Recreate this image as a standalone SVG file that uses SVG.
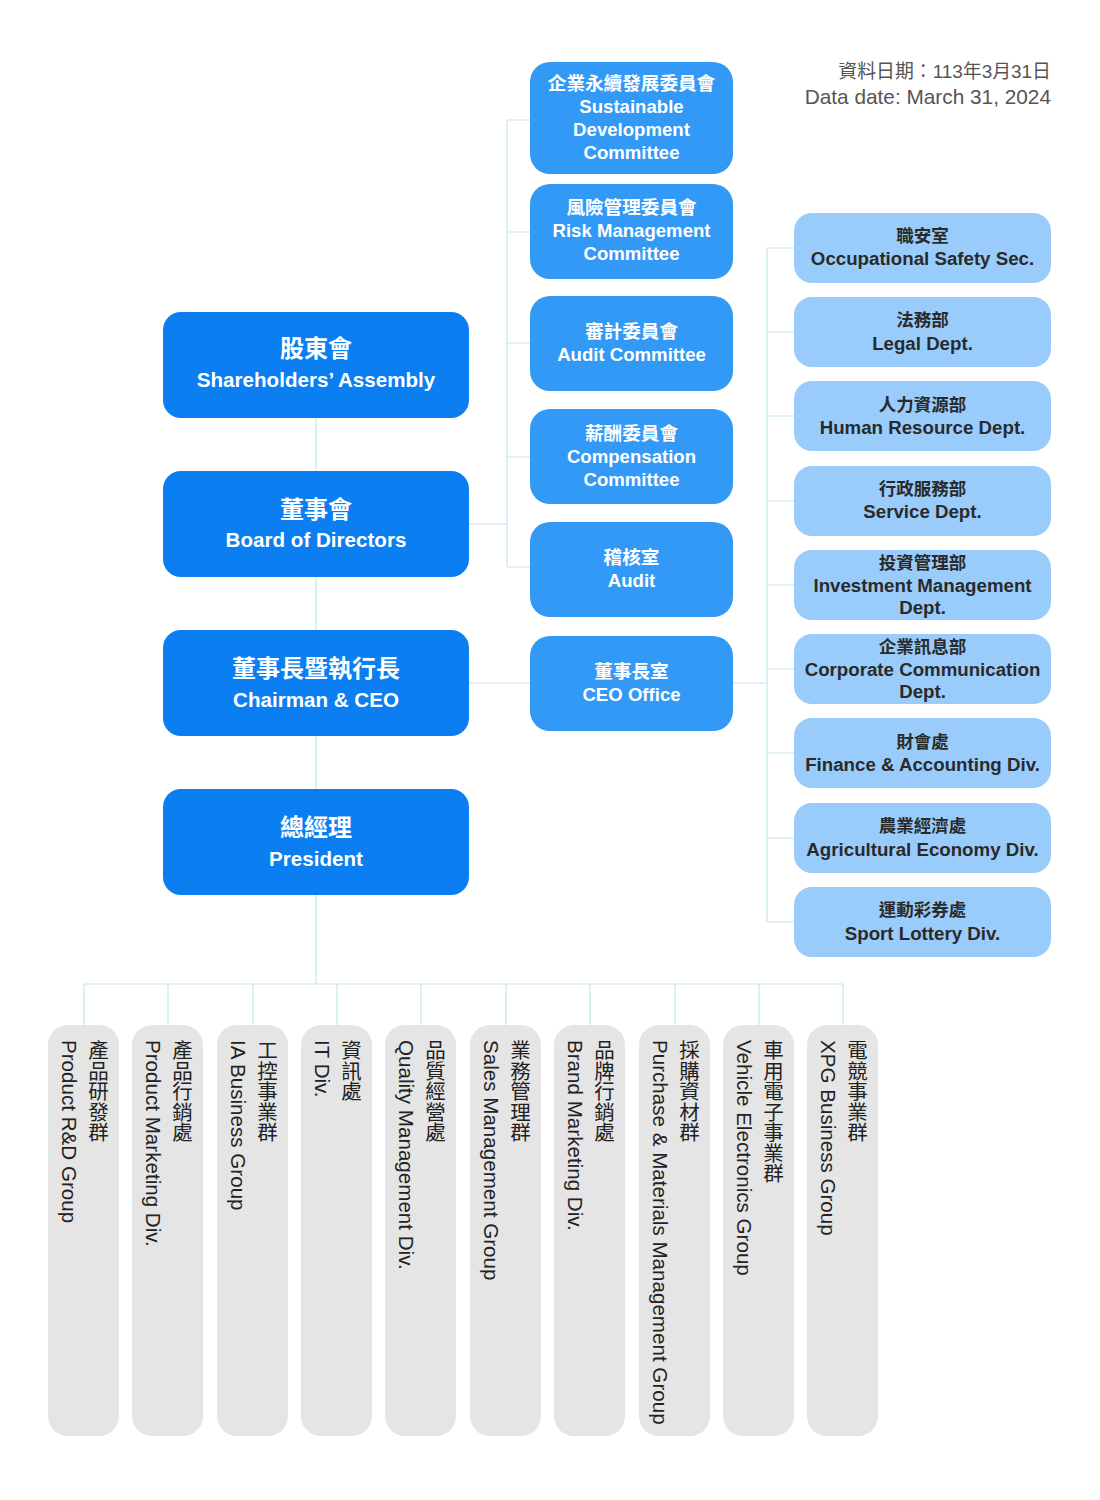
<svg xmlns="http://www.w3.org/2000/svg" width="1100" height="1500" viewBox="0 0 1100 1500">
<style>
text{font-family:"Liberation Sans",Arial,"Noto Sans CJK TC",sans-serif}
.main rect{fill:#0b7ff1}
.main text{fill:#fff;font-weight:bold;text-anchor:middle}
.main .zh{font-size:24px}
.main .en{font-size:20.6px}
.com rect{fill:#3399f7}
.com text{fill:#fff;font-weight:bold;font-size:18.6px;text-anchor:middle}
.dep rect{fill:#99ccfa}
.dep text{fill:#2a2a2a;font-weight:bold;text-anchor:middle}
.dep .zh{font-size:17.5px}
.dep .en{font-size:18.7px}
.col rect{fill:#e5e5e5}
.col text{fill:#222;font-size:20.6px}
.col .zh{writing-mode:vertical-rl;font-size:20.5px}
.conn{stroke:#c3e4f0;stroke-width:1.2;fill:none}
.date{fill:#555;text-anchor:end}
</style>
<rect width="1100" height="1500" fill="#fff"/>
<g id="date">
<text class="date" x="1051" y="78" font-size="18.9">資料日期：113年3月31日</text>
<text class="date" x="1051" y="104" font-size="20.8">Data date: March 31, 2024</text>
</g>
<g id="connectors" class="conn">
<path d="M316 418V789"/>
<path d="M469 524H507M507 120V567M507 120H530M507 232H530M507 343H530M507 457H530M507 567H530"/>
<path d="M469 683H530M733 683H767M767 248V922"/>
<path d="M767 248H794M767 332H794M767 416H794M767 501H794M767 585H794M767 669H794M767 753H794M767 838H794M767 922H794"/>
<path d="M316 895V984M84 984H843"/>
<path d="M84 984V1025M168 984V1025M253 984V1025M337 984V1025M421 984V1025M506 984V1025M590 984V1025M675 984V1025M759 984V1025M843 984V1025"/>
</g>
<g id="shareholders" class="main"><rect x="163" y="312" width="306" height="106" rx="18"/><text class="zh" x="316" y="357">股東會</text><text class="en" x="316" y="387">Shareholders’ Assembly</text></g>
<g id="board" class="main"><rect x="163" y="471" width="306" height="106" rx="18"/><text class="zh" x="316" y="518">董事會</text><text class="en" x="316" y="547">Board of Directors</text></g>
<g id="chairman" class="main"><rect x="163" y="630" width="306" height="106" rx="18"/><text class="zh" x="316" y="677">董事長暨執行長</text><text class="en" x="316" y="707">Chairman &amp; CEO</text></g>
<g id="president" class="main"><rect x="163" y="789" width="306" height="106" rx="18"/><text class="zh" x="316" y="836">總經理</text><text class="en" x="316" y="866">President</text></g>

<g id="sdc" class="com"><rect x="530" y="62" width="203" height="112" rx="20"/><text x="631.5" y="90">企業永續發展委員會</text><text x="631.5" y="113">Sustainable</text><text x="631.5" y="136">Development</text><text x="631.5" y="159">Committee</text></g>
<g id="risk" class="com"><rect x="530" y="184" width="203" height="95" rx="20"/><text x="631.5" y="214">風險管理委員會</text><text x="631.5" y="237">Risk Management</text><text x="631.5" y="260">Committee</text></g>
<g id="auditcom" class="com"><rect x="530" y="296" width="203" height="95" rx="20"/><text x="631.5" y="338">審計委員會</text><text x="631.5" y="361">Audit Committee</text></g>
<g id="comp" class="com"><rect x="530" y="409" width="203" height="95" rx="20"/><text x="631.5" y="440">薪酬委員會</text><text x="631.5" y="463">Compensation</text><text x="631.5" y="486">Committee</text></g>
<g id="audit" class="com"><rect x="530" y="522" width="203" height="95" rx="20"/><text x="631.5" y="564">稽核室</text><text x="631.5" y="587">Audit</text></g>
<g id="ceooffice" class="com"><rect x="530" y="636" width="203" height="95" rx="20"/><text x="631.5" y="678">董事長室</text><text x="631.5" y="701">CEO Office</text></g>

<g id="safety" class="dep"><rect x="794" y="213" width="257" height="70" rx="18"/><text class="zh" x="922.5" y="242">職安室</text><text class="en" x="922.5" y="265">Occupational Safety Sec.</text></g>
<g id="legal" class="dep"><rect x="794" y="297" width="257" height="70" rx="18"/><text class="zh" x="922.5" y="326">法務部</text><text class="en" x="922.5" y="350">Legal Dept.</text></g>
<g id="hr" class="dep"><rect x="794" y="381" width="257" height="70" rx="18"/><text class="zh" x="922.5" y="411">人力資源部</text><text class="en" x="922.5" y="434">Human Resource Dept.</text></g>
<g id="service" class="dep"><rect x="794" y="466" width="257" height="70" rx="18"/><text class="zh" x="922.5" y="495">行政服務部</text><text class="en" x="922.5" y="518">Service Dept.</text></g>
<g id="invest" class="dep"><rect x="794" y="550" width="257" height="70" rx="18"/><text class="zh" x="922.5" y="569">投資管理部</text><text class="en" x="922.5" y="592">Investment Management</text><text class="en" x="922.5" y="614">Dept.</text></g>
<g id="corpcom" class="dep"><rect x="794" y="634" width="257" height="70" rx="18"/><text class="zh" x="922.5" y="653">企業訊息部</text><text class="en" x="922.5" y="676">Corporate Communication</text><text class="en" x="922.5" y="698">Dept.</text></g>
<g id="finance" class="dep"><rect x="794" y="718" width="257" height="70" rx="18"/><text class="zh" x="922.5" y="748">財會處</text><text class="en" x="922.5" y="771">Finance &amp; Accounting Div.</text></g>
<g id="agri" class="dep"><rect x="794" y="803" width="257" height="70" rx="18"/><text class="zh" x="922.5" y="832">農業經濟處</text><text class="en" x="922.5" y="856">Agricultural Economy Div.</text></g>
<g id="lottery" class="dep"><rect x="794" y="887" width="257" height="70" rx="18"/><text class="zh" x="922.5" y="916">運動彩券處</text><text class="en" x="922.5" y="940">Sport Lottery Div.</text></g>

<g id="rd" class="col"><rect x="48" y="1025" width="71" height="411" rx="20"/><text class="zh" x="97" y="1040">產品研發群</text><text transform="translate(62,1040) rotate(90)">Product R&amp;D Group</text></g>
<g id="pm" class="col"><rect x="132" y="1025" width="71" height="411" rx="20"/><text class="zh" x="181" y="1040">產品行銷處</text><text transform="translate(146,1040) rotate(90)">Product Marketing Div.</text></g>
<g id="ia" class="col"><rect x="217" y="1025" width="71" height="411" rx="20"/><text class="zh" x="266" y="1040">工控事業群</text><text transform="translate(231,1040) rotate(90)">IA Business Group</text></g>
<g id="it" class="col"><rect x="301" y="1025" width="71" height="411" rx="20"/><text class="zh" x="350" y="1040">資訊處</text><text transform="translate(315,1040) rotate(90)">IT Div.</text></g>
<g id="qm" class="col"><rect x="385" y="1025" width="71" height="411" rx="20"/><text class="zh" x="434" y="1040">品質經營處</text><text transform="translate(399,1040) rotate(90)">Quality Management Div.</text></g>
<g id="sm" class="col"><rect x="470" y="1025" width="71" height="411" rx="20"/><text class="zh" x="519" y="1040">業務管理群</text><text transform="translate(484,1040) rotate(90)">Sales Management Group</text></g>
<g id="bm" class="col"><rect x="554" y="1025" width="71" height="411" rx="20"/><text class="zh" x="603" y="1040">品牌行銷處</text><text transform="translate(568,1040) rotate(90)">Brand Marketing Div.</text></g>
<g id="pur" class="col"><rect x="639" y="1025" width="71" height="411" rx="20"/><text class="zh" x="688" y="1040">採購資材群</text><text transform="translate(653,1040) rotate(90)">Purchase &amp; Materials Management Group</text></g>
<g id="ve" class="col"><rect x="723" y="1025" width="71" height="411" rx="20"/><text class="zh" x="772" y="1040">車用電子事業群</text><text transform="translate(737,1040) rotate(90)">Vehicle Electronics Group</text></g>
<g id="xpg" class="col"><rect x="807" y="1025" width="71" height="411" rx="20"/><text class="zh" x="856" y="1040">電競事業群</text><text transform="translate(821,1040) rotate(90)">XPG Business Group</text></g>
</svg>
